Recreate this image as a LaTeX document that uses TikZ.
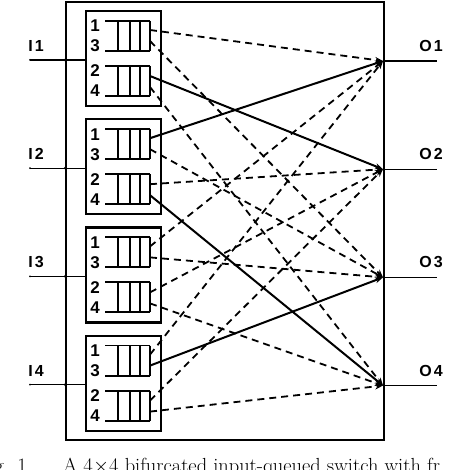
\documentclass[tikz,border=0pt]{standalone}
\usepackage{fontspec}
\newfontfamily\labfont{Liberation Sans}
\usetikzlibrary{arrows.meta}
\begin{document}
\begin{tikzpicture}[x=1pt,y=-1pt,
  iolabel/.style={font=\labfont\bfseries\fontsize{16}{16}\selectfont, inner sep=0pt},
  qnum/.style={font=\labfont\bfseries\fontsize{17}{17}\selectfont, inner sep=0pt},
  portbox/.style={draw, line width=2.2pt, minimum width=75pt, minimum height=95pt, anchor=north west, inner sep=0pt},
  qline/.style={line width=1.8pt},
  wire/.style={line width=1.3pt},
  solidarc/.style={line width=2pt, -{Stealth[length=8pt,width=6pt]}},
  dasharc/.style={line width=1.8pt, dash pattern=on 7pt off 5pt, -{Stealth[length=8pt,width=6pt]}}
]
\useasboundingbox (0,0) rectangle (474,470);
% switch frame
\node[draw, line width=1.6pt, anchor=north west, minimum width=318pt, minimum height=438pt, inner sep=0pt] (frame) at (65,1) {};
% outputs
\foreach \o in {1,2,3,4}{
  \pgfmathsetmacro{\oy}{61+(\o-1)*108.2}
  \coordinate (out\o) at (383,\oy);
  \coordinate (oend\o) at (437,\oy);
  \draw[wire] (out\o) -- (oend\o);
  \node[iolabel] (olab\o) at (431,\oy-15) {O\kern2pt\o};
}
% inputs and port boxes
\foreach \i in {1,2,3,4}{
  \pgfmathsetmacro{\T}{10+(\i-1)*108.2}
  \node[portbox] (box\i) at (85,\T) {};
  \coordinate (in\i) at (30,\T+50);
  \coordinate (junc\i) at (65,\T+50);
  \draw[wire] (in\i) -- (box\i.west |- in\i);
  \fill (in\i) circle (1pt);
  \fill (junc\i) circle (1.3pt);
  \node[iolabel] (ilab\i) at (36,\T+36) {I\kern2pt\i};
  % two queues
  \foreach \q/\qt/\a/\b in {u/11/1/3, l/56/2/4}{
    \draw[qline] (150,\T+\qt) -- (105,\T+\qt);
    \draw[qline] (105,\T+\qt+30) -- (150,\T+\qt+30);
    \foreach \vx in {118,130,140,150}
      \draw[qline] (\vx,\T+\qt) -- (\vx,\T+\qt+30);
    \node[qnum] (n\i\a) at (95,\T+\qt+5) {\a};
    \node[qnum] (n\i\b) at (95,\T+\qt+25) {\b};
  }
  \coordinate (s\i1) at (150,\T+20);
  \coordinate (s\i3) at (150,\T+31);
  \coordinate (s\i2) at (150,\T+66);
  \coordinate (s\i4) at (150,\T+77);
}
% connections
\foreach \i/\o/\st in {1/1/dasharc,1/3/dasharc,1/2/solidarc,1/4/dasharc,
                       2/1/solidarc,2/3/dasharc,2/2/dasharc,2/4/solidarc,
                       3/1/dasharc,3/3/dasharc,3/2/dasharc,3/4/dasharc,
                       4/1/dasharc,4/3/solidarc,4/2/dasharc,4/4/dasharc}
  \draw[\st] (s\i\o) -- (out\o);
% caption
\node[anchor=base east, inner sep=0pt, font=\fontsize{20.4}{22}\selectfont] (figno) at (32,472) {Fig. 1.};
\node[anchor=base west, inner sep=0pt, font=\fontsize{20.4}{22}\selectfont] (caption) at (63,472) {A $4{\times}4$ bifurcated input-queued switch with fr};
\end{tikzpicture}
\end{document}
